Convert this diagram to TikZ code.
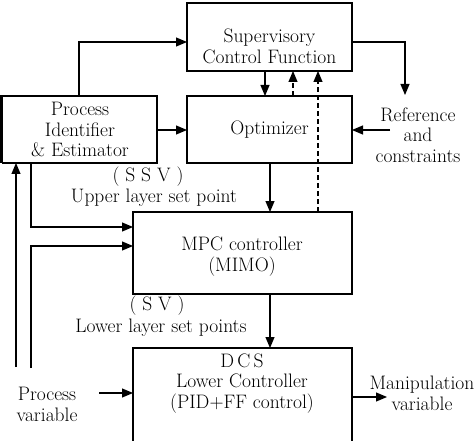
\documentclass[tikz,border=0pt]{standalone}
\usetikzlibrary{arrows.meta}
\begin{document}
\begin{tikzpicture}[x=1pt,y=-1pt,
  box/.style={draw,line width=1.4pt},
  arr/.style={line width=1.1pt,-{Triangle[length=11pt,width=9pt]}},
  darr/.style={line width=1.1pt,dash pattern=on 5pt off 3pt,-{Triangle[length=11pt,width=9pt]}},
  lbl/.style={font=\fontsize{19.5}{20.5}\selectfont,align=center,inner sep=0pt}]
\useasboundingbox (0,0) rectangle (474,441);
% boxes
\draw[box] (187,3) rectangle (352,71);
\node[lbl] (sup) at (269.5,46.5) {Supervisory\\Control Function};
\draw[box] (187,96) rectangle (352,163);
\node[lbl] (opt) at (269.5,130) {Optimizer};
\draw[box] (2.5,96) rectangle (157,163);
\draw[line width=3pt] (1.5,95.5) -- (1.5,163.5);
\node[lbl] (pie) at (80,129.5) {Process\\Identifier\\\&\ Estimator};
\draw[box] (133,212) rectangle (352,294);
\node[lbl] (mpc) at (242,256.5) {MPC controller\\(MIMO)};
\draw[box] (133,348) rectangle (352,446);
\node[lbl] (dcs) at (242,383.5) {D\,C\,S\\Lower Controller\\(PID+FF control)};
% labels
\node[lbl] (ref) at (418,135) {Reference\\and\\constraints};
\node[lbl] (ssv) at (148,177) {( S S V )};
\node[lbl] (usp) at (154,198) {Upper layer set point};
\node[lbl] (sv) at (157,306) {( S V )};
\node[lbl] (lsp) at (161,328) {Lower layer set points};
\node[lbl] (pv) at (47,404.5) {Process\\variable};
\node[lbl] (mv) at (422,393.5) {Manipulation\\variable};
% coordinates
\coordinate (a1) at (79,96);
\coordinate (a2) at (79,42);
\coordinate (a3) at (187,42);
\coordinate (b1) at (352,42);
\coordinate (b2) at (405,42);
\coordinate (b3) at (405,95);
% connectors
\draw[arr] (a1) -- (a2) -- (a3);
\draw[arr] (b1) -- (b2) -- (b3);
\draw[arr] (265,71) -- (265,96);
\draw[darr] (293,96) -- (293,71);
\draw[darr] (318,212) -- (318,71);
\draw[arr] (157,130) -- (187,130);
\draw[arr] (390,130) -- (352,130);
\draw[arr] (270,163) -- (270,212);
\draw[arr] (16,367) -- (16,163);
\draw[arr] (31,163) -- (31,227) -- (133,227);
\draw[arr] (31,368) -- (31,246) -- (133,246);
\draw[arr] (270,294) -- (270,348);
\draw[arr] (99,393) -- (133,393);
\draw[arr] (352,397) -- (387,397);
\end{tikzpicture}
\end{document}
